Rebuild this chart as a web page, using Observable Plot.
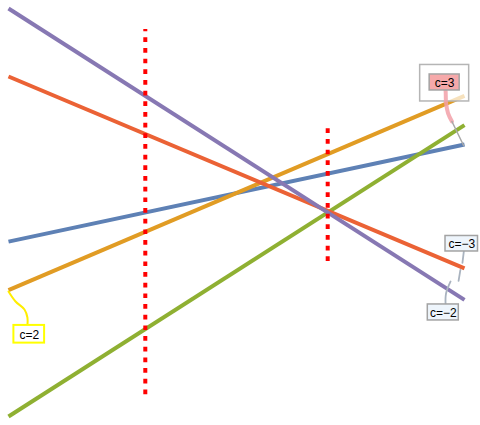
<!DOCTYPE html>
<html>
<head>
<meta charset="utf-8">
<script src="https://cdn.jsdelivr.net/npm/d3@7"></script>
<script src="https://cdn.jsdelivr.net/npm/@observablehq/plot@0.6"></script>
<style>
  html, body { margin: 0; padding: 0; background: #fff; }
</style>
</head>
<body>
<div id="chart"></div>
<script>
// Lines y = c·x + b, read at the two ends x = -1 and x = 1
const lineC      = [1, 2, 3, -2, -3];
const lineColors = ["#5E81B5", "#E19C24", "#8FB032", "#EB6235", "#8778B3"];
const xEnds      = [-1, 1];
const yStart     = [-1.0, -2.0, -4.6, 2.4, 3.8];
const yEnd       = [1.0, 2.0, 1.4, -1.55, -2.2];

// Vertical dotted red lines
const ruleXs     = [-0.4, 0.4];
const ruleBottom = [-4.15, -1.41];
const ruleTop    = [3.37, 1.33];

// Callout labels (centres in data units)
const calloutText = ["c=3", "c=\u22123", "c=\u22122", "c=2"];
const calloutX    = [0.913, 0.988, 0.907, -0.909];
const calloutY    = [2.277, -1.043, -2.458, -2.907];

// Leader paths (data units)
const leaderPink   = {x: [0.913, 0.917, 0.919, 0.928, 0.945], y: [2.2, 2.112, 1.865, 1.639, 1.474]};
const leaderGray3  = {x: [0.945, 0.996], y: [1.474, 0.98]};
const leaderM3a    = {x: [1.0, 0.991], y: [-1.086, -1.436]};
const leaderM3b    = {x: [0.982, 0.974], y: [-1.58, -1.807]};
const leaderM2     = {x: [0.917, 0.919, 0.939], y: [-2.294, -2.067, -1.82]};
const leaderC2     = {x: [-1.0, -0.969, -0.930, -0.917, -0.917], y: [-2.026, -2.232, -2.397, -2.562, -2.726]};

const lineRows = lineC.flatMap((c, i) => xEnds.map((x, j) => ({c, i, x, y: j === 0 ? yStart[i] : yEnd[i]})));
const rules = ruleXs.map((x, i) => ({x, y1: ruleBottom[i], y2: ruleTop[i]}));
const callouts = calloutText.map((t, i) => ({t, x: calloutX[i], y: calloutY[i]}));
const toRows = (p) => p.x.map((x, i) => ({x, y: p.y[i]}));

const boxStyle = [
  {fill: "#f6a9aa", stroke: "#a3a3a3", w: 30, h: 16, sw: 1.5},
  {fill: "#eef5fc", stroke: "#a3a3a3", w: 32.5, h: 15.5, sw: 1.5},
  {fill: "#eef5fc", stroke: "#a3a3a3", w: 31, h: 16, sw: 1.5},
  {fill: "#ffffff", stroke: "#ffff00", w: 30.7, h: 17.7, sw: 2}
];

const marks = [];
// lines in Mathematica order
lineC.forEach((c, i) => {
  marks.push(Plot.line(lineRows.filter(d => d.i === i), {
    x: "x", y: "y", stroke: lineColors[i], strokeWidth: 4, strokeLinecap: "butt"
  }));
});
// dotted rules
marks.push(Plot.ruleX(rules, {x: "x", y1: "y1", y2: "y2", stroke: "#ff0000", strokeWidth: 4,
  strokeDasharray: "4.7,5.97", strokeLinecap: "butt"}));

// c=3 outer frame
marks.push(Plot.rect([callouts[0]], {x1: "x", x2: "x", y1: "y", y2: "y",
  insetLeft: -24.5, insetRight: -24.5, insetTop: -17.5, insetBottom: -19,
  fill: "#ffffff", fillOpacity: 0.7, stroke: "#b5b5b5", strokeWidth: 1.5}));

// leaders
marks.push(Plot.line(toRows(leaderPink), {x: "x", y: "y", curve: "catmull-rom", stroke: "#f2a0a8", strokeWidth: 4, strokeOpacity: 0.85}));
marks.push(Plot.line(toRows(leaderGray3), {x: "x", y: "y", stroke: "#a8a8a8", strokeWidth: 1.5}));
marks.push(Plot.line(toRows(leaderM3a), {x: "x", y: "y", stroke: "#a9b3bf", strokeWidth: 1.8}));
marks.push(Plot.line(toRows(leaderM3b), {x: "x", y: "y", stroke: "#a9b3bf", strokeWidth: 1.8}));
marks.push(Plot.line(toRows(leaderM2), {x: "x", y: "y", curve: "catmull-rom", stroke: "#a9b3bf", strokeWidth: 1.8}));
marks.push(Plot.line(toRows(leaderC2), {x: "x", y: "y", curve: "catmull-rom", stroke: "#ffee00", strokeWidth: 2}));

// label boxes + text
callouts.forEach((d, i) => {
  const s = boxStyle[i];
  marks.push(Plot.rect([d], {x1: "x", x2: "x", y1: "y", y2: "y",
    insetLeft: -s.w / 2, insetRight: -s.w / 2, insetTop: -s.h / 2, insetBottom: -s.h / 2,
    fill: s.fill, stroke: s.stroke, strokeWidth: s.sw}));
});
marks.push(Plot.text(callouts, {x: "x", y: "y", text: "t", fill: "#000", fontSize: 12,
  fontFamily: "Liberation Sans, Arial, sans-serif", textAnchor: "middle", dy: 0.5}));

const chart = Plot.plot({
  width: 480,
  height: 425,
  marginLeft: 8,
  marginRight: 16,
  marginTop: 8,
  marginBottom: 9,
  axis: null,
  x: {domain: [-1, 1]},
  y: {domain: [-4.6, 3.8]},
  style: {background: "#fff", overflow: "visible"},
  marks
});
document.getElementById("chart").appendChild(chart);
</script>
</body>
</html>
